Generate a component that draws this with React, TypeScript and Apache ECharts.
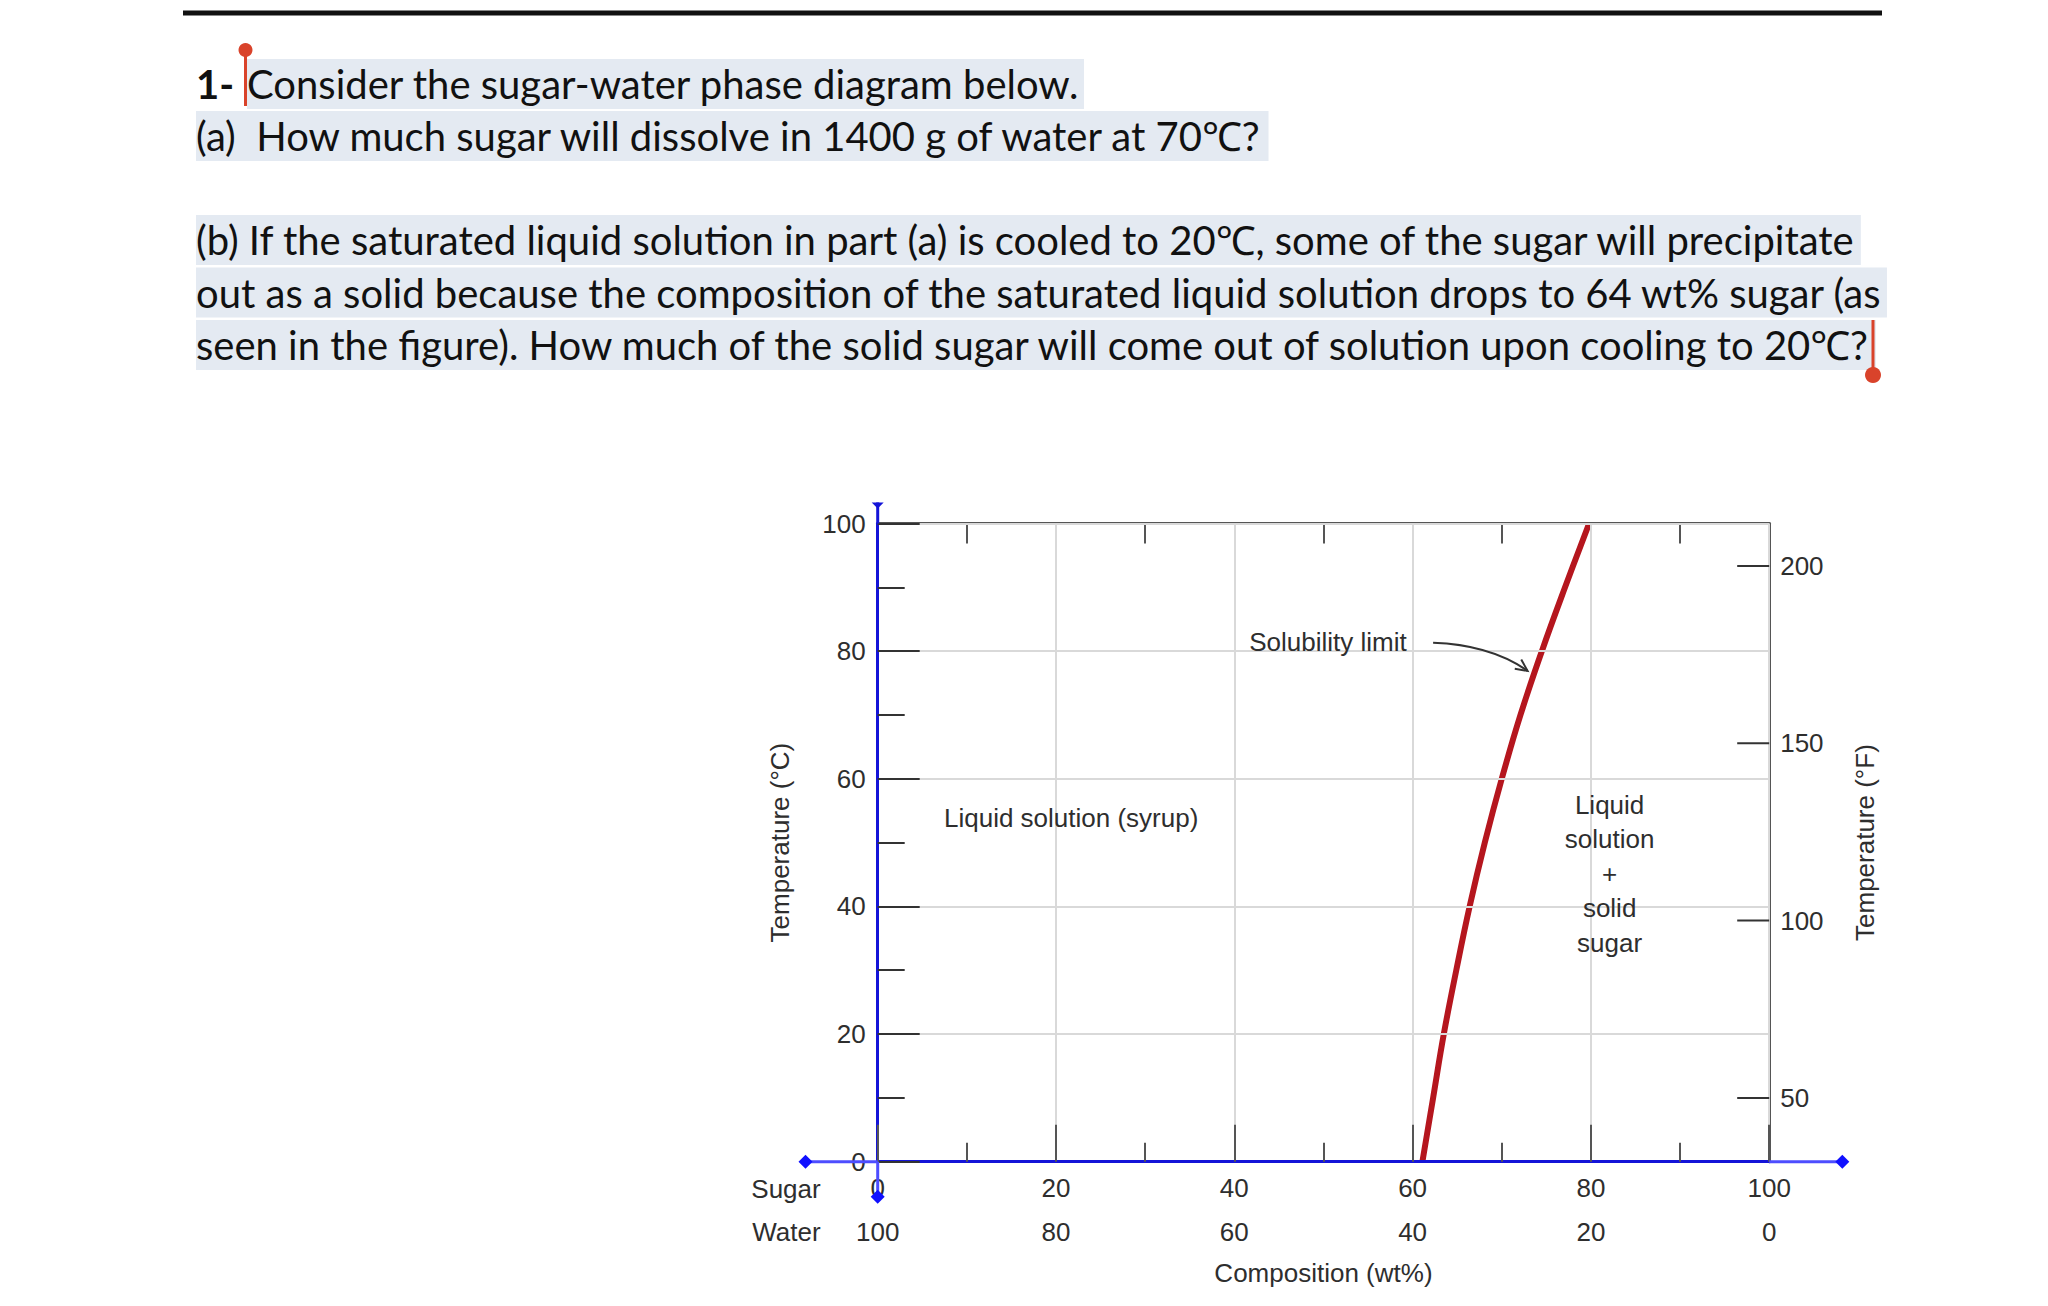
import React, { useEffect, useRef } from "react";
import * as echarts from "echarts";

// ---- data ----
const tempC = [0, 10, 20, 30, 40, 50, 60, 70, 80, 90, 100];
const solubilityWt = [61.1, 62.3, 63.5, 64.9, 66.4, 68.1, 70.0, 72.1, 74.5, 77.1, 79.8];
const compositionRange = [0, 100];
const compositionInterval = 20;
const tempCRange = [0, 100];
const tempCInterval = 20;
const fahrenheitRange = [32, 212];
const fahrenheitTicks = [50, 100, 150, 200];

const questionLines = [
  "(a)  How much sugar will dissolve in 1400 g of water at 70℃?",
  "(b) If the saturated liquid solution in part (a) is cooled to 20℃, some of the sugar will precipitate",
  "out as a solid because the composition of the saturated liquid solution drops to 64 wt% sugar (as",
  "seen in the figure). How much of the solid sugar will come out of solution upon cooling to 20℃?",
];
const questionTitleNum = "1-";
const questionTitle = "Consider the sugar-water phase diagram below.";

// annotation anchors in data units [wt%, °C]
const syrupLabel = { text: "Liquid solution (syrup)", at: [21.7, 53.9] };
const twoPhaseLabel = { text: "Liquid\nsolution\n+\nsolid\nsugar", at: [82.1, 45.1] };
const solubilityLabel = { text: "Solubility limit", at: [50.5, 81.5] };
const arrowFrom = [62.3, 81.3];
const arrowCtrl = [68.7, 81.0];
const arrowTo = [72.9, 76.9];

export default function App() {
  const ref = useRef<HTMLDivElement>(null);
  useEffect(() => {
    const chart = echarts.init(ref.current!, null, { renderer: "svg", width: 2048, height: 1306 });
    const font = "Liberation Sans, Arial, sans-serif";
    const txt = "#2e2e2e";
    const axisGray = "#555";
    const blue = "#1414d8";
    const lightBlue = "#4d4dff";
    const gridGray = "#d9d9d9";

    chart.setOption({
      animation: false,
      backgroundColor: "#fff",
      grid: { left: 877.7, top: 523.5, width: 891.5, height: 638.2, containLabel: false },
      xAxis: [
        {
          type: "value", position: "bottom", min: compositionRange[0], max: compositionRange[1], interval: compositionInterval,
          axisLine: { show: true, onZero: false, lineStyle: { color: blue, width: 3 } },
          axisTick: { show: true, inside: true, length: 37, lineStyle: { color: axisGray, width: 2 } },
          minorTick: { show: true, splitNumber: 2, length: 19, lineStyle: { color: axisGray, width: 2 } },
          axisLabel: { margin: 13, fontSize: 26, color: txt, fontFamily: font },
          splitLine: { show: true, lineStyle: { color: gridGray, width: 2 } },
          z: 5,
        },
        {
          type: "value", position: "bottom", offset: 44, inverse: true, min: compositionRange[0], max: compositionRange[1], interval: compositionInterval,
          axisLine: { show: false }, axisTick: { show: false }, splitLine: { show: false },
          axisLabel: { margin: 13, fontSize: 26, color: txt, fontFamily: font },
          name: "Composition (wt%)", nameLocation: "middle", nameGap: 54,
          nameTextStyle: { fontSize: 26, color: txt, fontFamily: font },
        },
        {
          type: "value", position: "top", min: compositionRange[0], max: compositionRange[1], interval: compositionInterval,
          axisLine: { show: true, lineStyle: { color: axisGray, width: 3 } },
          axisTick: { show: true, inside: true, length: 37, lineStyle: { color: axisGray, width: 2 } },
          minorTick: { show: true, splitNumber: 2, length: 20, lineStyle: { color: axisGray, width: 2 } },
          axisLabel: { show: false }, splitLine: { show: false },
        },
      ],
      yAxis: [
        {
          type: "value", position: "left", min: tempCRange[0], max: tempCRange[1], interval: tempCInterval,
          axisLine: { show: true, onZero: false, lineStyle: { color: blue, width: 3 } },
          axisTick: { show: true, inside: true, length: 42, lineStyle: { color: "#333", width: 2 } },
          minorTick: { show: true, splitNumber: 2, length: 27, lineStyle: { color: "#333", width: 2 } },
          axisLabel: { margin: 12, fontSize: 26, color: txt, fontFamily: font },
          splitLine: { show: true, lineStyle: { color: gridGray, width: 2 } },
          name: "Temperature (°C)", nameLocation: "middle", nameGap: 85, nameRotate: 90,
          nameTextStyle: { fontSize: 26, color: txt, fontFamily: font },
          z: 5,
        },
        {
          type: "value", position: "right", min: fahrenheitRange[0], max: fahrenheitRange[1],
          axisLine: { show: true, onZero: false, lineStyle: { color: axisGray, width: 3 } },
          axisTick: { show: false },
          minorTick: { show: false },
          axisLabel: { show: false },
          splitLine: { show: false },
          name: "Temperature (°F)", nameLocation: "middle", nameGap: 83, nameRotate: 90,
          nameTextStyle: { fontSize: 26, color: txt, fontFamily: font },
        },
      ],
      series: [
        {
          type: "line", xAxisIndex: 0, yAxisIndex: 0, smooth: 0.4, showSymbol: false,
          data: tempC.map((t, i) => [solubilityWt[i], t]),
          lineStyle: { color: "#b5161e", width: 6 }, z: 3,
        },
      ],
    });

    const px = (p: number[]) => chart.convertToPixel({ seriesIndex: 0 }, p) as number[];
    const o = px([0, 0]);
    const x100 = px([100, 0]);
    const y100 = px([0, 100]);
    const xL = px([-8.1, 0]);
    const xR = px([108.2, 0]);
    const yTop = px([0, 103.3]);
    const yBot = px([0, -5.5]);
    const diamond = (c: number[], r: number) => ({
      type: "polygon", z: 20,
      shape: { points: [[c[0] - r, c[1]], [c[0], c[1] - r], [c[0] + r, c[1]], [c[0], c[1] + r]] },
      style: { fill: "#1010ff" },
    });

    const chartText = (text: string, p: number[], extra: any = {}) => ({
      type: "text", z: 30,
      style: { text, x: p[0], y: p[1], fill: txt, font: `26px ${font}`, align: "center", verticalAlign: "middle", ...extra },
    });

    const fMarks: any[] = [];
    fahrenheitTicks.forEach((v) => {
      const y = chart.convertToPixel({ yAxisIndex: 1 }, v) as number;
      fMarks.push({
        type: "line", z: 20,
        shape: { x1: x100[0] - 32, y1: y, x2: x100[0], y2: y },
        style: { stroke: "#333", lineWidth: 2 },
      });
      fMarks.push(chartText(String(v), [x100[0] + 11, y], { align: "left" }));
    });

    const qFont = "Lato, 'Noto Sans', sans-serif";
    const qSize = 40;
    const hl = "#e4eaf2";
    const qLineY = [136, 240, 292.5, 345];

    const a0 = px(arrowFrom), ac = px(arrowCtrl), a1 = px(arrowTo);
    const ang = Math.atan2(a1[1] - ac[1], a1[0] - ac[0]);
    const ah = 13, spread = 0.45;
    const head = [
      [a1[0] - ah * Math.cos(ang - spread), a1[1] - ah * Math.sin(ang - spread)],
      [a1[0], a1[1]],
      [a1[0] - ah * Math.cos(ang + spread), a1[1] - ah * Math.sin(ang + spread)],
    ];

    const graphics: any[] = [
      { type: "rect", shape: { x: 183, y: 10.5, width: 1699, height: 5 }, style: { fill: "#111" } },
      {
        type: "text",
        style: { text: questionTitleNum, x: 196, y: 84, font: `bold ${qSize}px ${qFont}`, fill: "#111", verticalAlign: "middle" },
      },
      {
        type: "text",
        style: {
          text: questionTitle, x: 247, y: 84, font: `${qSize}px ${qFont}`, fill: "#111", verticalAlign: "middle",
          lineHeight: 40, backgroundColor: hl, padding: [5, 4, 5, 0],
        },
      },
      ...questionLines.map((t, i) => ({
        type: "text",
        style: {
          text: t, x: 196, y: qLineY[i], font: `${qSize}px ${qFont}`, fill: "#111", verticalAlign: "middle",
          lineHeight: 40, backgroundColor: hl, padding: [5, 4, 5, 0],
        },
      })),
      // cursor markers
      { type: "rect", shape: { x: 244, y: 52, width: 3, height: 54 }, style: { fill: "#d9432b" } },
      { type: "circle", shape: { cx: 245.5, cy: 50, r: 7 }, style: { fill: "#d9432b" } },
      { type: "rect", shape: { x: 1871.5, y: 320, width: 3, height: 52 }, style: { fill: "#d9432b" } },
      { type: "circle", shape: { cx: 1873, cy: 375, r: 8 }, style: { fill: "#d9432b" } },
      // blue axis extensions
      { type: "line", z: 19, shape: { x1: xL[0], y1: xL[1], x2: o[0], y2: o[1] }, style: { stroke: lightBlue, lineWidth: 3 } },
      { type: "line", z: 19, shape: { x1: x100[0], y1: x100[1], x2: xR[0], y2: xR[1] }, style: { stroke: lightBlue, lineWidth: 3 } },
      { type: "line", z: 19, shape: { x1: o[0], y1: o[1], x2: yBot[0], y2: yBot[1] }, style: { stroke: lightBlue, lineWidth: 3 } },
      { type: "line", z: 19, shape: { x1: y100[0], y1: y100[1], x2: yTop[0], y2: yTop[1] }, style: { stroke: blue, lineWidth: 3 } },
      diamond(xL, 7), diamond(xR, 7), diamond(yBot, 7),
      {
        type: "polygon", z: 20,
        shape: { points: [[yTop[0] - 6, yTop[1]], [yTop[0] + 6, yTop[1]], [yTop[0], yTop[1] + 6]] },
        style: { fill: blue },
      },
      ...fMarks,
      // row names
      chartText("Sugar", [o[0] - 57, o[1] + 27], { align: "right" }),
      chartText("Water", [o[0] - 57, o[1] + 70], { align: "right" }),
      // region labels
      chartText(syrupLabel.text, px(syrupLabel.at)),
      chartText(twoPhaseLabel.text, px(twoPhaseLabel.at), { lineHeight: 34.5 }),
      chartText(solubilityLabel.text, px(solubilityLabel.at)),
      {
        type: "bezierCurve", z: 25,
        shape: { x1: a0[0], y1: a0[1], cpx1: ac[0], cpy1: ac[1], x2: a1[0], y2: a1[1] },
        style: { stroke: "#333", lineWidth: 2, fill: null },
      },
      { type: "polyline", z: 25, shape: { points: head }, style: { stroke: "#333", lineWidth: 2, fill: null } },
    ];
    chart.setOption({ graphic: graphics });
    return () => chart.dispose();
  }, []);
  return (
    <div
      ref={ref}
      style={{ position: "fixed", left: 0, top: 0, width: 2048, height: 1306, background: "#fff" }}
    />
  );
}
